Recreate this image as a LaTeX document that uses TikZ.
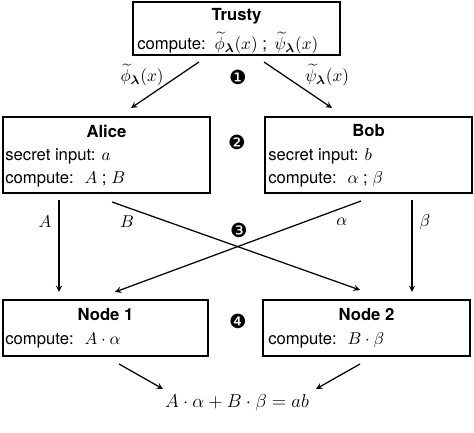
\documentclass[tikz,border=0pt]{standalone}
\usepackage{amssymb}
\usepackage{amsmath}
\usepackage{fontspec}
\setmainfont{TeX Gyre Heros}[Scale=0.97]
\newfontfamily\dingfont{DejaVu Sans}
\usetikzlibrary{fit}

\newcommand{\phit}{\widetilde{\phi}_{\boldsymbol{\lambda}}(x)}
\newcommand{\psit}{\widetilde{\psi}_{\boldsymbol{\lambda}}(x)}

\begin{document}
\begin{tikzpicture}[x=0.64pt,y=-0.64pt,
	every node/.style={font=\fontsize{11}{13}\selectfont},
	party/.style={draw,thick,inner sep=0pt,fit={#1}},
	title/.style={font=\fontsize{11}{13}\selectfont\bfseries,inner sep=0pt},
	entry/.style={anchor=west,inner sep=0pt},
	lbl/.style={inner sep=0pt},
	stepno/.style={inner sep=0pt,font=\fontsize{12.5}{14}\dingfont},
	arr/.style={->,>=stealth,thick}]
	\useasboundingbox (0,0) rectangle (474,433);
	
	%trusted party
	\node[party={(133,2) (340,55)}] (trusty) {};
	\node[title] (trusty-t) at (236.5,16) {Trusty};
	\node[entry] (trusty-c) at (137,43) {compute: \,$\phit$ ; \,$\psit$};
	
	%players
	\node[party={(3,117) (210,193)}] (alice) {};
	\node[title] (alice-t) at (106.5,131) {Alice};
	\node[entry] (alice-s) at (5,156) {secret input: $a$};
	\node[entry] (alice-c) at (5,179) {compute: \ $A$ ; $B$};
	
	\node[party={(265,117) (472,193)}] (bob) {};
	\node[title] (bob-t) at (368.5,131) {Bob};
	\node[entry] (bob-s) at (268,156) {secret input: $b$};
	\node[entry] (bob-c) at (268,179) {compute: \ $\alpha$ ; $\beta$};
	
	%computing nodes
	\node[party={(3,300) (208,356)}] (node1) {};
	\node[title] (node1-t) at (105.5,315) {Node 1};
	\node[entry] (node1-c) at (5,340) {compute: \ $A\cdot\alpha$};
	
	\node[party={(263,300) (470,356)}] (node2) {};
	\node[title] (node2-t) at (366.5,315) {Node 2};
	\node[entry] (node2-c) at (268,340) {compute: \ $B\cdot\beta$};
	
	\node[lbl,font=\fontsize{12}{14}\selectfont] (result) at (237,403) {$A\cdot\alpha+B\cdot\beta=ab$};
	
	%step numbers
	\node[stepno] (s1) at (238,77) {❶};
	\node[stepno] (s2) at (237,142) {❷};
	\node[stepno] (s3) at (239,230) {❸};
	\node[stepno] (s4) at (238,321) {❹};
	
	%arrow ends
	\coordinate (ta) at (199,62);	\coordinate (at) at (131,108);
	\coordinate (tb) at (264,62);	\coordinate (bt) at (332,108);
	\coordinate (aA) at (59,200);	\coordinate (nA) at (59,292);
	\coordinate (aB) at (112,202);	\coordinate (nB) at (360,290);
	\coordinate (ba) at (361,201);	\coordinate (na) at (115,292);
	\coordinate (bb) at (412,200);	\coordinate (nb) at (412,292);
	\coordinate (r1) at (119,364);	\coordinate (e1) at (163,389);
	\coordinate (r2) at (360,364);	\coordinate (e2) at (316,389);
	
	\draw[arr] (ta) -- (at);
	\draw[arr] (tb) -- (bt);
	\draw[arr] (aA) -- (nA);
	\draw[arr] (aB) -- (nB);
	\draw[arr] (ba) -- (na);
	\draw[arr] (bb) -- (nb);
	\draw[arr] (r1) -- (e1);
	\draw[arr] (r2) -- (e2);
	
	%message labels
	\node[lbl] (m-phi) at (142,75) {$\phit$};
	\node[lbl] (m-psi) at (327,75) {$\psit$};
	\node[lbl] (m-A) at (45,222) {$A$};
	\node[lbl] (m-B) at (127,222) {$B$};
	\node[lbl] (m-alpha) at (342,222) {$\alpha$};
	\node[lbl] (m-beta) at (425,222) {$\beta$};
\end{tikzpicture}
\end{document}
